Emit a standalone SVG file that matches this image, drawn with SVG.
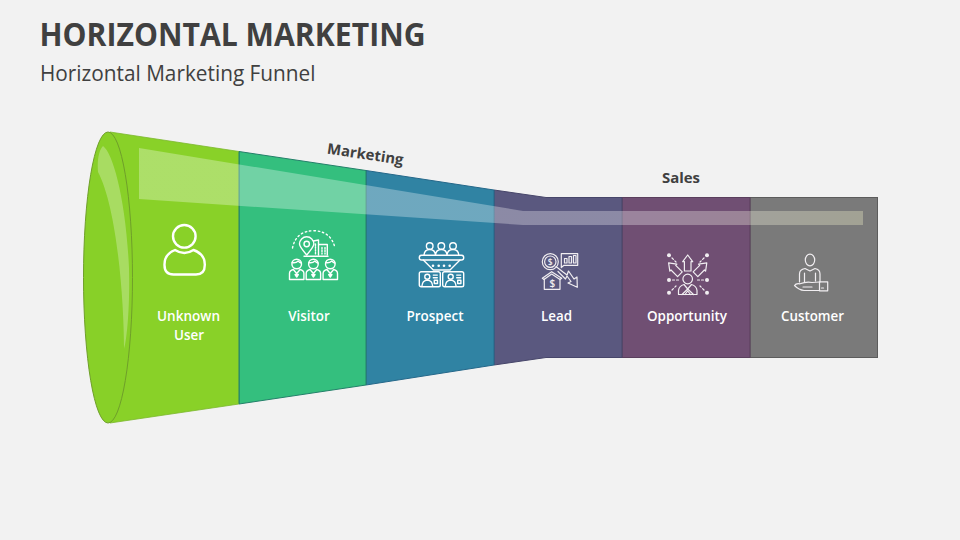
<svg xmlns="http://www.w3.org/2000/svg" width="960" height="540" viewBox="0 0 960 540">
<style>
text{font-family:"Open Sans","Noto Sans","Liberation Sans",sans-serif}
.title{font-size:32.500px;font-weight:700;fill:#404040}
.sub{font-size:21px;fill:#404040}
.head{font-size:14.700px;font-weight:700;fill:#404040}
.lab{font-size:14px;font-weight:600;fill:#fff;text-anchor:middle}
.seg{stroke-width:1}
.ic{fill:none;stroke:#fff;stroke-width:1.400;stroke-linejoin:round;stroke-linecap:round}
.ig{fill:none;stroke:#f1eef1;stroke-width:1.200;stroke-linejoin:round;stroke-linecap:round}
.sym{font-size:9px;font-weight:600;fill:#f1eef1;text-anchor:middle}
</style>
<defs>
<linearGradient id="shine" gradientUnits="userSpaceOnUse" x1="139" y1="0" x2="863" y2="0">
<stop offset="0" stop-color="#fff"/><stop offset="0.7" stop-color="#fff"/><stop offset="1" stop-color="#ffffd0"/>
</linearGradient>
<g id="vperson" class="ic">
<circle cx="0" cy="0" r="4.800"/>
<path d="M-4.600,-1.400 Q-1,-0.600 1.500,-3 Q3,-1.400 4.600,-1"/>
<path d="M-7.200,15.500 V9.500 Q-7.200,6.300 -3.400,5.500 L0,9.500 L3.400,5.500 Q7.200,6.300 7.200,9.500 V15.500 Z"/>
<path d="M-1.600,10.500 H1.600 L0,13 Z"/>
</g>
<g id="card" class="ic">
<rect x="0" y="0" width="21" height="15" rx="1.800"/>
<circle cx="8" cy="5" r="2.500"/>
<path d="M2.600,14.600 Q3,8.600 8,8.400 Q13,8.600 13.400,14.600"/>
<path d="M14,3.400 H18 M14,6 H18"/>
<rect x="15" y="8.600" width="3.200" height="3.200"/>
</g>
<g id="oarrow" class="ig">
<path d="M0,-27 L5,-20.300 H3.300 V-11 H-3.300 V-20.300 H-5 Z"/>
</g>
</defs>
<rect width="960" height="540" fill="#f2f2f2"/>
<text class="title" x="39.500" y="45.700" textLength="386" lengthAdjust="spacingAndGlyphs">HORIZONTAL MARKETING</text>
<text class="sub" x="40" y="80.500" textLength="275.500" lengthAdjust="spacingAndGlyphs">Horizontal Marketing Funnel</text>
<text class="head" transform="translate(326.500,153.500) rotate(8.500)" textLength="77" lengthAdjust="spacingAndGlyphs">Marketing</text>
<text class="head" x="662" y="183" textLength="38" lengthAdjust="spacingAndGlyphs">Sales</text>

<g id="connectors"></g>

<g id="node-customer">
<rect class="seg" x="750" y="197.500" width="127.500" height="160" fill="#7a7a7a" stroke="#5c5c5c"/>
<ellipse class="ig" cx="810" cy="260" rx="4.700" ry="5.800"/>
<path class="ig" d="M799.500,282 V274 Q799.500,269.500 805,268.500 L810,271 L815,268.500 Q820,269.500 820,274 V282 M804.500,273 V282 M815.500,273 V281"/>
<path class="ig" d="M819.500,290.500 H804 Q799,290 794.500,285.500 Q796,283 800,283.800 Q806,281.500 812,282.500 L819.500,282 M803,287 H812"/>
<rect class="ig" x="819.500" y="281.800" width="8.200" height="9"/>
<path class="ig" d="M821.500,288 H823.500"/>
<text class="lab" x="812.500" y="320.500" textLength="63" lengthAdjust="spacingAndGlyphs">Customer</text>
</g>

<g id="node-opportunity">
<rect class="seg" x="622" y="197.500" width="128" height="160" fill="#704f73" stroke="#5a3f5d"/>
<use href="#oarrow" transform="translate(687.700,282)"/>
<use href="#oarrow" transform="translate(687.700,282) rotate(-45)"/>
<use href="#oarrow" transform="translate(687.700,282) rotate(45)"/>
<circle class="ig" cx="687.700" cy="279" r="4.800"/>
<path class="ig" d="M678.500,294.500 V290.500 Q679,286 684,284.500 L687.700,289 L691.500,284.500 Q696.500,286 697,290.500 V294.500 Z M682,294.500 L687.700,289 L693.500,294.500 M685,294.500 L687.700,291 L690.500,294.500"/>
<g fill="#f1eef1">
<circle cx="669" cy="255.300" r="2"/><circle cx="707" cy="255.300" r="2"/>
<circle cx="669" cy="280" r="2"/><circle cx="707" cy="280" r="2"/>
<circle cx="669" cy="292.700" r="2"/><circle cx="707" cy="292.700" r="2"/>
</g>
<path class="ig" stroke-dasharray="2 2" d="M672,258 L676,262 M704,258 L700,262 M672.500,280 H680 M703.500,280 H696 M672,290 L676,286 M704,290 L700,286"/>
<text class="lab" x="687" y="320.500" textLength="80" lengthAdjust="spacingAndGlyphs">Opportunity</text>
</g>

<g id="node-lead">
<path class="seg" d="M494,190 L546,197.500 H622 V357.500 H546 L494,365 Z" fill="#5a587f" stroke="#47466a"/>
<circle class="ig" cx="550.300" cy="261.700" r="8"/>
<circle class="ig" cx="550.300" cy="261.700" r="5.700"/>
<text class="sym" x="550.300" y="265" style="font-size:8.500px">$</text>
<path class="ig" d="M561.300,253.700 H577.700 V265.300 H564 L561.300,267.500 Z"/>
<path class="ig" d="M564.500,258.500 H567 V263 H564.500 Z M569,256.500 H571.500 V263 H569 Z M573.500,255.500 H576 V263 H573.500 Z"/>
<path class="ig" d="M556,266.500 L563,272 L567,275 L568.500,271 L574,279 L577,277 L577.300,287.300 L568,283 L571,281.500 L567,276 L565.500,279 L558,271.500"/>
<path class="ig" d="M542.300,278.300 L551.700,271.700 L561.700,278.300 L560,279.500 L551.700,274 L544,279.500 Z"/>
<path class="ig" d="M544.300,279 V289.300 H560 V279"/>
<text class="sym" x="552.300" y="286.500" style="font-size:10px">$</text>
<text class="lab" x="556.500" y="320.500" textLength="31" lengthAdjust="spacingAndGlyphs">Lead</text>
</g>

<g id="node-prospect">
<path class="seg" d="M366,170.500 L494,190 V365 L366,385 Z" fill="#3083a3" stroke="#25688a"/>
<g class="ic">
<circle cx="429.700" cy="246" r="3.300"/><circle cx="441.300" cy="246" r="3.300"/><circle cx="453" cy="246" r="3.300"/>
<path d="M424,255 Q424.500,249.500 429.700,249.500 Q435,249.500 435.500,255 M435.500,255 Q436,249.500 441.300,249.500 Q446.500,249.500 447,255 M447,255 Q447.500,249.500 453,249.500 Q458.300,249.500 458.800,255"/>
<rect x="419.300" y="255.300" width="44.400" height="4.700" rx="2.300"/>
<path d="M423.300,260 L433.300,270 H450 L460,260"/>
</g>
<g fill="#fff"><circle cx="433" cy="265.700" r="1.300"/><circle cx="438.700" cy="265.700" r="1.300"/><circle cx="444" cy="265.700" r="1.300"/><circle cx="449.700" cy="265.700" r="1.300"/></g>
<use href="#card" x="419.300" y="271.700"/>
<use href="#card" x="442.700" y="271.700"/>
<text class="lab" x="435" y="320.500" textLength="57" lengthAdjust="spacingAndGlyphs">Prospect</text>
</g>

<g id="node-visitor">
<path class="seg" d="M239,151.500 L366,170.500 V385 L239,404 Z" fill="#34bf7e" stroke="#24806a"/>
<path class="ic" stroke-dasharray="1.500 2.800" d="M292.500,248 Q296,231 313.500,230.700 Q331,231 335,248"/>
<path class="ic" d="M306.700,255 Q299.500,246.500 299.500,244 A7.200,7.200 0 0 1 313.900,244 Q313.900,246.500 306.700,255 Z"/>
<circle class="ic" cx="306.700" cy="244" r="2.700"/>
<path class="ic" d="M313.500,241 L318.500,240 V255 M318.500,244.500 H327.300 V255"/>
<path class="ic" stroke-dasharray="1.500 1.300" d="M315.500,244 V254 M322,247.500 V254 M325,247.500 V254"/>
<path class="ic" d="M304,256.300 H328"/>
<use href="#vperson" x="296.700" y="264"/>
<use href="#vperson" x="313.400" y="264"/>
<use href="#vperson" x="330.300" y="264"/>
<text class="lab" x="309" y="320.500" textLength="41.500" lengthAdjust="spacingAndGlyphs">Visitor</text>
</g>

<g id="node-unknown-user">
<path class="seg" d="M110,132 L239,151.500 V404 L110,423 Z" fill="#89d128"/>
<path d="M239,151.500 V404" stroke="#24806a" stroke-width="1"/>
<path d="M110,132 L239,151.500 M110,423 L239,404" stroke="#7bb82c" stroke-width=".8"/>
<ellipse cx="108" cy="277.500" rx="24.500" ry="145.500" fill="#88d028" stroke="#6f9f2a" stroke-width="1"/>
<path d="M103,146 C113,153 126,200 129,268 C130,305 127,340 124,349 C124,300 117,208 98,172 C97,160 99,150 103,146 Z" fill="#fff" fill-opacity=".27"/>
<circle cx="184.300" cy="236.300" r="11.300" fill="none" stroke="#fff" stroke-width="2.400"/>
<path d="M175,250 Q184.300,256 193.500,250 Q204.800,254 204.800,264.500 V265 Q204.800,274.500 196,274.500 H173.500 Q164.500,274.500 164.500,265 V264.500 Q164.500,254 175,250 Z" fill="none" stroke="#fff" stroke-width="2.400" stroke-linejoin="round"/>
<text class="lab" x="188.500" y="320.500" textLength="63" lengthAdjust="spacingAndGlyphs">Unknown</text>
<text class="lab" x="189" y="339.500" textLength="30" lengthAdjust="spacingAndGlyphs">User</text>
</g>

<path id="shine-band" d="M139,148 L523,211 H863 V225 H523 L139,199 Z" fill="url(#shine)" fill-opacity=".3"/>
</svg>
